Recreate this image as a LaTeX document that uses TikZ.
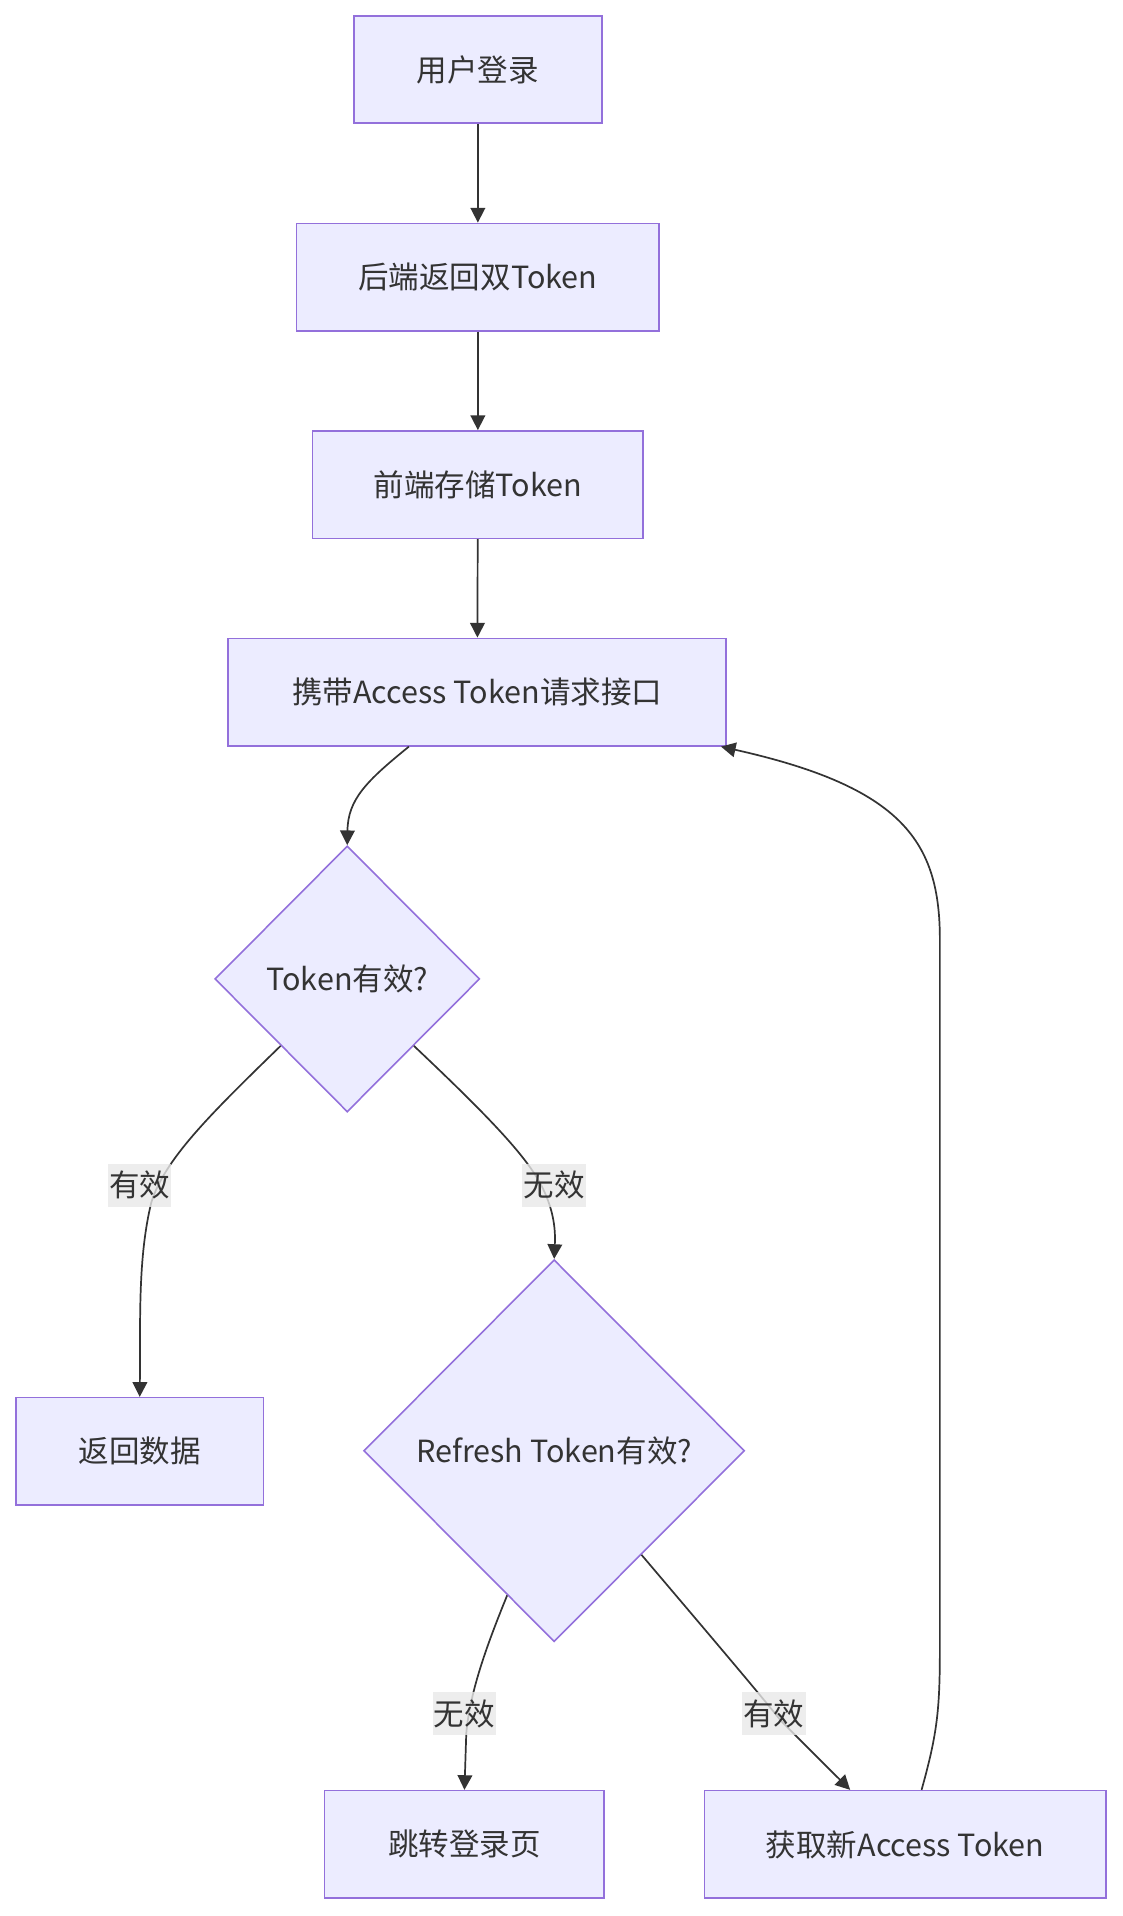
\documentclass[tikz,border=0pt]{standalone}
\usepackage{fontspec}
\setmainfont{Noto Sans CJK SC}
\usetikzlibrary{shapes.geometric,arrows.meta,calc}
\definecolor{nodefill}{HTML}{ECECFF}
\definecolor{nodeline}{HTML}{9370DB}
\definecolor{edgeline}{HTML}{333333}
\definecolor{labelbg}{HTML}{E8E8E8}
\begin{document}
\begin{tikzpicture}[x=1pt,y=-1pt,
  every node/.style={font=\fontsize{25}{30}\selectfont, text=edgeline},
  box/.style={draw=nodeline, fill=nodefill, line width=1.3pt, rectangle, minimum height=88pt, inner sep=0pt},
  decision/.style={draw=nodeline, fill=nodefill, line width=1.3pt, diamond, inner sep=0pt},
  flow/.style={draw=edgeline, line width=1.4pt, -{Triangle[length=12pt,width=12pt]}},
  elabel/.style={fill=labelbg, fill opacity=0.8, text opacity=1, inner xsep=1pt, inner ysep=6pt}
]
\useasboundingbox (0,0) rectangle (920,1569.7);
% nodes
\node[box, minimum width=203pt] (A) at (391.5,57) {用户登录};
\node[box, minimum width=297pt] (B) at (391.5,227) {后端返回双Token};
\node[box, minimum width=271pt] (C) at (391.5,397) {前端存储Token};
\node[box, minimum width=408pt] (D) at (391,567) {携带Access Token请求接口};
\node[decision, minimum width=217pt, minimum height=218pt] (E) at (284.5,802) {Token有效?};
\node[decision, minimum width=312pt, minimum height=313pt] (F) at (454,1188.5) {Refresh Token有效?};
\node[box, minimum width=203pt] (G) at (114.5,1189) {返回数据};
\node[box, minimum width=229pt] (H) at (380.5,1511) {跳转登录页};
\node[box, minimum width=329pt] (I) at (741.5,1511) {获取新Access Token};
% edges
\draw[flow] (A) -- (B);
\draw[flow] (B) -- (C);
\draw[flow] (C) -- (D);
\draw[flow] ([xshift=-56pt]D.south) .. controls (300,640) and (285,655) .. (E.north);
\draw[flow] (E.south west) .. controls (170,915) and (135,950) .. (124,985) .. controls (113,1030) and (115,1080) .. (G.north);
\draw[flow] (E.south east) .. controls (390,905) and (425,940) .. (440,965) .. controls (455,990) and (455,1010) .. (F.north);
\draw[flow] (F.-108) .. controls (400,1345) and (385,1385) .. (382,1420) -- (H.north);
\draw[flow] (F.-50) .. controls (580,1338) and (620,1385) .. (640,1410) .. controls (660,1430) and (675,1445) .. ([xshift=-45pt]I.north);
\draw[flow] ([xshift=13.5pt]I.north) .. controls (768,1420) and (770,1400) .. (770,1350) -- (770,770) .. controls (770,690) and (740,645) .. ([xshift=-5pt]D.south east);
% edge labels
\node[elabel] (L1) at (114.5,971) {有效};
\node[elabel] (L2) at (454,971) {无效};
\node[elabel] (L3) at (380.5,1404) {无效};
\node[elabel] (L4) at (634,1404) {有效};
\end{tikzpicture}
\end{document}
